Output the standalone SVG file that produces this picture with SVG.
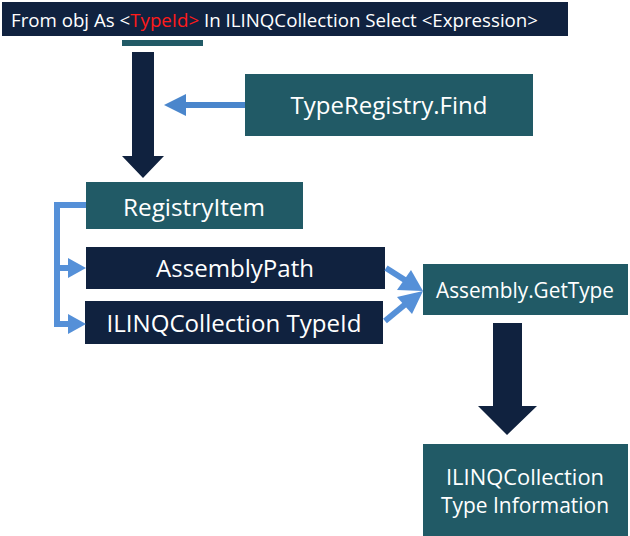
<svg xmlns="http://www.w3.org/2000/svg" width="630" height="536" viewBox="0 0 630 536">
<defs>
<style>
.navy{fill:#10223F}
.teal{fill:#215A66}
.t{fill:#FFFFFF;font-family:"Open Sans","Noto Sans","DejaVu Sans",sans-serif;text-anchor:middle}
.blue{fill:none;stroke:#4A86CC;stroke-width:6}
.bh{fill:#4A86CC}
.lb{stroke:#5590D8}
.lbh{fill:#5590D8}
</style>
</defs>
<rect width="630" height="536" fill="#FFFFFF"/>
<g id="query">
<rect x="2" y="2" width="566" height="34" class="navy"/>
<text x="11" y="27" font-family="'Open Sans','Noto Sans',sans-serif" font-size="18.5" fill="#FFFFFF" textLength="527" lengthAdjust="spacingAndGlyphs">From obj As &lt;<tspan fill="#FF1A1A">TypeId&gt;</tspan> In ILINQCollection Select &lt;Expression&gt;</text>
<rect x="122" y="40" width="81" height="6" class="teal"/>
</g>
<g id="typeregistry">
<rect x="245" y="74" width="288" height="62" class="teal"/>
<text x="389" y="114" class="t" font-size="24" textLength="197" lengthAdjust="spacingAndGlyphs">TypeRegistry.Find</text>
</g>
<g id="registryitem">
<rect x="86" y="182" width="217" height="47" class="teal"/>
<text x="194" y="216" class="t" font-size="24" textLength="142" lengthAdjust="spacingAndGlyphs">RegistryItem</text>
</g>
<g id="assemblypath">
<rect x="86" y="247" width="299" height="42" class="navy"/>
<text x="235" y="277" class="t" font-size="24" textLength="158" lengthAdjust="spacingAndGlyphs">AssemblyPath</text>
</g>
<g id="typeid">
<rect x="85" y="301" width="298" height="43" class="navy"/>
<text x="234" y="332" class="t" font-size="24" textLength="255" lengthAdjust="spacingAndGlyphs">ILINQCollection TypeId</text>
</g>
<g id="gettype">
<rect x="423" y="264" width="205" height="51" class="teal"/>
<text x="525" y="298" class="t" font-size="21" textLength="178" lengthAdjust="spacingAndGlyphs">Assembly.GetType</text>
</g>
<g id="typeinfo">
<rect x="423" y="444" width="205" height="92" class="teal"/>
<text x="525" y="485" class="t" font-size="21" textLength="158" lengthAdjust="spacingAndGlyphs">ILINQCollection</text>
<text x="525" y="513" class="t" font-size="21" textLength="168" lengthAdjust="spacingAndGlyphs">Type Information</text>
</g>
<g id="connectors">
<polygon class="navy" points="132,52 154,52 154,156 164,156 143,178 122,156 132,156"/>
<polygon class="navy" points="493,323 522,323 522,406 537,406 507,435 478,406 493,406"/>
<line class="blue" x1="245" y1="105" x2="184" y2="105"/>
<polygon class="bh" points="164,105 186,94 186,116"/>
<polyline class="blue lb" points="86,205 57,205 57,324 70,324"/>
<line class="blue lb" x1="57" y1="268" x2="70" y2="268"/>
<polygon class="lbh" points="86,268 68,258 68,278"/>
<polygon class="lbh" points="86,324 68,314 68,334"/>
<line class="blue lb" x1="386" y1="268" x2="408" y2="282" stroke-width="7"/>
<polygon class="lbh" points="423,291 397,290 411,270"/>
<line class="blue lb" x1="385" y1="321" x2="408" y2="302" stroke-width="7"/>
<polygon class="lbh" points="423,291 412,314 397,297"/>
</g>
</svg>
